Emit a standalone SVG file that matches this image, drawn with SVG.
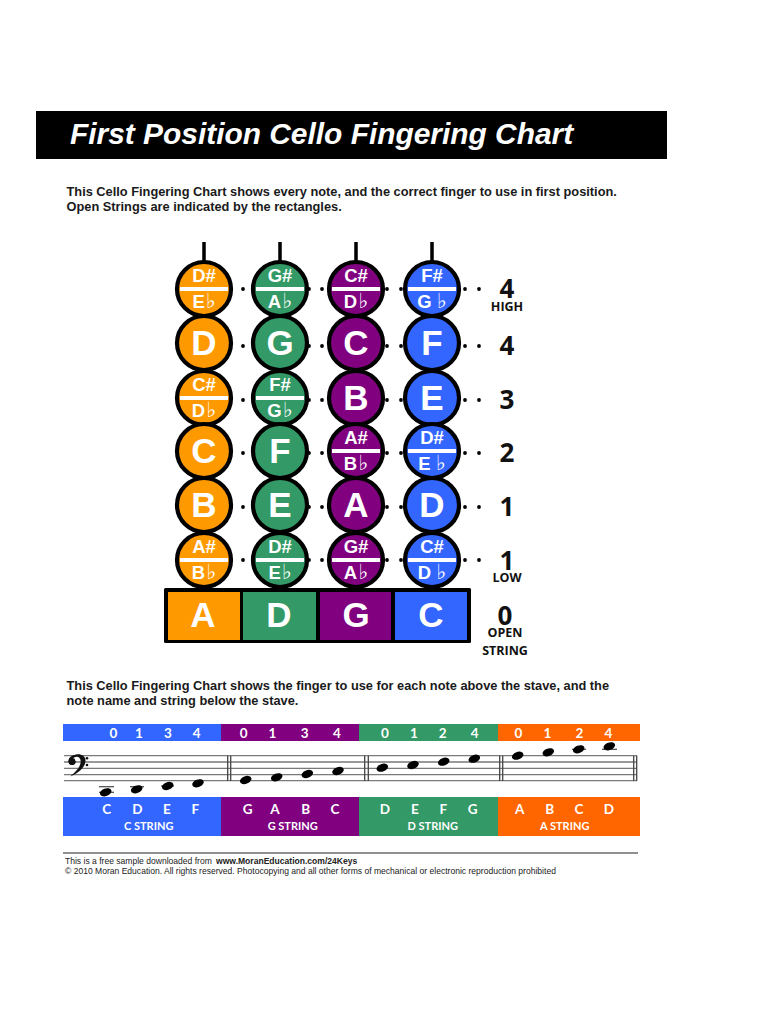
<svg xmlns="http://www.w3.org/2000/svg" width="768" height="1024" viewBox="0 0 768 1024">
<style>
text{font-family:"Liberation Sans",Arial,sans-serif}
.p{font-size:12.8px;font-weight:bold;fill:#1a1a1a}
.f{font-size:8.55px;fill:#222}
.c{stroke:#000;stroke-width:4.2}
.or{fill:#FF9900}.gr{fill:#339966}.pu{fill:#800080}.bl{fill:#3366FF}.dk{fill:#FF6600}
.big{font-size:35px;font-weight:bold;fill:#fff;text-anchor:middle}
.sm{font-size:18.5px;font-weight:bold;fill:#fff;text-anchor:middle}
.fl{font-family:"DejaVu Sans",sans-serif;font-weight:bold;font-size:21px}
.bar{stroke:#fff;stroke-width:4}
.stem{stroke:#000;stroke-width:3.5}
.dot{fill:#000}
.num{font-family:"Open Sans",Lato,sans-serif;font-weight:bold;font-size:26px;fill:#111;text-anchor:middle}
.lab{font-family:"Open Sans",Lato,sans-serif;font-weight:bold;font-size:12.5px;fill:#111;text-anchor:middle}
.w{font-family:Lato,"Open Sans",sans-serif;font-weight:bold;font-size:13.5px;fill:#fff;text-anchor:middle}
.s{font-family:Lato,"Open Sans",sans-serif;font-weight:bold;font-size:11px;fill:#fff;text-anchor:middle}
.l{stroke:#7a7a7a;stroke-width:1.3}
.b{stroke:#444;stroke-width:1.3}
.lg{stroke:#222;stroke-width:1.1}
</style>
<rect width="768" height="1024" fill="#fff"/>
<g id="title"><rect x="36" y="111" width="631" height="48" fill="#000"/><text x="70" y="144" font-size="29.9" font-weight="bold" font-style="italic" fill="#fff">First Position Cello Fingering Chart</text></g>
<g id="intro"><text class="p" x="66.5" y="196">This Cello Fingering Chart shows every note, and the correct finger to use in first position.</text><text class="p" x="66.5" y="211">Open Strings are indicated by the rectangles.</text></g>

<g id="connectors">
<path class="stem" d="M204 242V263M280 242V263M356 242V263M432 242V263"/>
<g class="dot">
<circle cx="243" cy="289" r="1.9"/><circle cx="309" cy="289" r="1.9"/><circle cx="322" cy="289" r="1.9"/><circle cx="387" cy="289" r="1.9"/><circle cx="401" cy="289" r="1.9"/><circle cx="465" cy="289" r="1.9"/><circle cx="479" cy="289" r="1.9"/>
<circle cx="243" cy="346" r="1.9"/><circle cx="309" cy="346" r="1.9"/><circle cx="322" cy="346" r="1.9"/><circle cx="387" cy="346" r="1.9"/><circle cx="401" cy="346" r="1.9"/><circle cx="465" cy="346" r="1.9"/><circle cx="479" cy="346" r="1.9"/>
<circle cx="243" cy="400" r="1.9"/><circle cx="309" cy="400" r="1.9"/><circle cx="322" cy="400" r="1.9"/><circle cx="387" cy="400" r="1.9"/><circle cx="401" cy="400" r="1.9"/><circle cx="465" cy="400" r="1.9"/><circle cx="479" cy="400" r="1.9"/>
<circle cx="243" cy="453" r="1.9"/><circle cx="309" cy="453" r="1.9"/><circle cx="322" cy="453" r="1.9"/><circle cx="387" cy="453" r="1.9"/><circle cx="401" cy="453" r="1.9"/><circle cx="465" cy="453" r="1.9"/><circle cx="479" cy="453" r="1.9"/>
<circle cx="243" cy="507" r="1.9"/><circle cx="309" cy="507" r="1.9"/><circle cx="322" cy="507" r="1.9"/><circle cx="387" cy="507" r="1.9"/><circle cx="401" cy="507" r="1.9"/><circle cx="465" cy="507" r="1.9"/><circle cx="479" cy="507" r="1.9"/>
<circle cx="243" cy="560" r="1.9"/><circle cx="309" cy="560" r="1.9"/><circle cx="322" cy="560" r="1.9"/><circle cx="387" cy="560" r="1.9"/><circle cx="401" cy="560" r="1.9"/><circle cx="465" cy="560" r="1.9"/><circle cx="479" cy="560" r="1.9"/>
</g>
</g>

<g id="n-ds-eb"><circle class="c or" cx="204" cy="289" r="27"/><path class="bar" d="M180 289H228"/><text class="sm" x="204" y="282">D#</text><text class="sm" x="204" y="308">E<tspan class="fl" dx="1">♭</tspan></text></g>
<g id="n-gs-ab"><circle class="c gr" cx="280" cy="289" r="27"/><path class="bar" d="M256 289H304"/><text class="sm" x="280" y="282">G#</text><text class="sm" x="280" y="308">A<tspan class="fl" dx="1">♭</tspan></text></g>
<g id="n-cs-db"><circle class="c pu" cx="356" cy="289" r="27"/><path class="bar" d="M332 289H380"/><text class="sm" x="356" y="282">C#</text><text class="sm" x="356" y="308">D<tspan class="fl" dx="1">♭</tspan></text></g>
<g id="n-fs-gb"><circle class="c bl" cx="432" cy="289" r="27"/><path class="bar" d="M408 289H456"/><text class="sm" x="432" y="282">F#</text><text class="sm" x="432" y="308">G <tspan class="fl">♭</tspan></text></g>

<g id="n-d4"><circle class="c or" cx="204" cy="343" r="27"/><text class="big" x="204" y="355">D</text></g>
<g id="n-g4"><circle class="c gr" cx="280" cy="343" r="27"/><text class="big" x="280" y="355">G</text></g>
<g id="n-c4"><circle class="c pu" cx="356" cy="343" r="27"/><text class="big" x="356" y="355">C</text></g>
<g id="n-f4"><circle class="c bl" cx="432" cy="343" r="27"/><text class="big" x="432" y="355">F</text></g>

<g id="n-cs3"><circle class="c or" cx="204" cy="398" r="27"/><path class="bar" d="M180 398H228"/><text class="sm" x="204" y="391">C#</text><text class="sm" x="204" y="417">D<tspan class="fl" dx="1">♭</tspan></text></g>
<g id="n-fs3"><circle class="c gr" cx="280" cy="398" r="27"/><path class="bar" d="M256 398H304"/><text class="sm" x="280" y="391">F#</text><text class="sm" x="280" y="417">G<tspan class="fl" dx="1">♭</tspan></text></g>
<g id="n-b3"><circle class="c pu" cx="356" cy="398" r="27"/><text class="big" x="356" y="410">B</text></g>
<g id="n-e3"><circle class="c bl" cx="432" cy="398" r="27"/><text class="big" x="432" y="410">E</text></g>

<g id="n-c2"><circle class="c or" cx="204" cy="451" r="27"/><text class="big" x="204" y="463">C</text></g>
<g id="n-f2"><circle class="c gr" cx="280" cy="451" r="27"/><text class="big" x="280" y="463">F</text></g>
<g id="n-as2"><circle class="c pu" cx="356" cy="451" r="27"/><path class="bar" d="M332 451H380"/><text class="sm" x="356" y="444">A#</text><text class="sm" x="356" y="470">B<tspan class="fl" dx="1">♭</tspan></text></g>
<g id="n-ds2"><circle class="c bl" cx="432" cy="451" r="27"/><path class="bar" d="M408 451H456"/><text class="sm" x="432" y="444">D#</text><text class="sm" x="432" y="470">E <tspan class="fl">♭</tspan></text></g>

<g id="n-b1"><circle class="c or" cx="204" cy="505" r="27"/><text class="big" x="204" y="517">B</text></g>
<g id="n-e1"><circle class="c gr" cx="280" cy="505" r="27"/><text class="big" x="280" y="517">E</text></g>
<g id="n-a1"><circle class="c pu" cx="356" cy="505" r="27"/><text class="big" x="356" y="517">A</text></g>
<g id="n-d1"><circle class="c bl" cx="432" cy="505" r="27"/><text class="big" x="432" y="517">D</text></g>

<g id="n-as1"><circle class="c or" cx="204" cy="560" r="27"/><path class="bar" d="M180 560H228"/><text class="sm" x="204" y="553">A#</text><text class="sm" x="204" y="579">B<tspan class="fl" dx="1">♭</tspan></text></g>
<g id="n-ds1"><circle class="c gr" cx="280" cy="560" r="27"/><path class="bar" d="M256 560H304"/><text class="sm" x="280" y="553">D#</text><text class="sm" x="280" y="579">E<tspan class="fl" dx="1">♭</tspan></text></g>
<g id="n-gs1"><circle class="c pu" cx="356" cy="560" r="27"/><path class="bar" d="M332 560H380"/><text class="sm" x="356" y="553">G#</text><text class="sm" x="356" y="579">A<tspan class="fl" dx="1">♭</tspan></text></g>
<g id="n-cs1"><circle class="c bl" cx="432" cy="560" r="27"/><path class="bar" d="M408 560H456"/><text class="sm" x="432" y="553">C#</text><text class="sm" x="432" y="579">D <tspan class="fl">♭</tspan></text></g>

<g id="open-strings">
<rect x="164" y="588" width="307" height="55" rx="1.5" fill="#000"/>
<rect class="or" x="168" y="592" width="72" height="48"/><rect class="gr" x="243" y="592" width="73" height="48"/><rect class="pu" x="320" y="592" width="71" height="48"/><rect class="bl" x="395" y="592" width="72" height="48"/>
<text class="big" x="203" y="627">A</text><text class="big" x="279" y="627">D</text><text class="big" x="356" y="627">G</text><text class="big" x="431" y="627">C</text>
</g>

<g id="fingers">
<text class="num" x="507" y="298">4</text><text class="lab" x="507" y="311">HIGH</text>
<text class="num" x="507" y="355">4</text>
<text class="num" x="507" y="409">3</text>
<text class="num" x="507" y="462">2</text>
<text class="num" x="507" y="516">1</text>
<text class="num" x="507" y="570">1</text><text class="lab" x="507" y="582">LOW</text>
<text class="num" x="505" y="625">0</text><text class="lab" x="505" y="637">OPEN</text><text class="lab" x="505" y="655">STRING</text>
</g>

<g id="intro2"><text class="p" x="66.5" y="690">This Cello Fingering Chart shows the finger to use for each note above the stave, and the</text><text class="p" x="66.5" y="705">note name and string below the stave.</text></g>

<g id="stave-bars">
<rect class="bl" x="63" y="724" width="158" height="17"/><rect class="pu" x="221" y="724" width="138" height="17"/><rect class="gr" x="359" y="724" width="139" height="17"/><rect class="dk" x="498" y="724" width="142" height="17"/>
<rect class="bl" x="63" y="797" width="158" height="39"/><rect class="pu" x="221" y="797" width="138" height="39"/><rect class="gr" x="359" y="797" width="139" height="39"/><rect class="dk" x="498" y="797" width="142" height="39"/>
<g>
<text class="w" x="113.3" y="738">0</text><text class="w" x="139" y="738">1</text><text class="w" x="168" y="738">3</text><text class="w" x="196.7" y="738">4</text>
<text class="w" x="243.7" y="738">0</text><text class="w" x="272.3" y="738">1</text><text class="w" x="304.7" y="738">3</text><text class="w" x="337" y="738">4</text>
<text class="w" x="385" y="738">0</text><text class="w" x="414" y="738">1</text><text class="w" x="442.7" y="738">2</text><text class="w" x="474.7" y="738">4</text>
<text class="w" x="518.3" y="738">0</text><text class="w" x="547.3" y="738">1</text><text class="w" x="579.3" y="738">2</text><text class="w" x="608.3" y="738">4</text>
<text class="w" x="106.7" y="814">C</text><text class="w" x="137.3" y="814">D</text><text class="w" x="167" y="814">E</text><text class="w" x="195.3" y="814">F</text>
<text class="w" x="247.7" y="814">G</text><text class="w" x="275" y="814">A</text><text class="w" x="305.7" y="814">B</text><text class="w" x="335" y="814">C</text>
<text class="w" x="385" y="814">D</text><text class="w" x="415" y="814">E</text><text class="w" x="443.3" y="814">F</text><text class="w" x="472.7" y="814">G</text>
<text class="w" x="519.7" y="814">A</text><text class="w" x="549.7" y="814">B</text><text class="w" x="579" y="814">C</text><text class="w" x="609" y="814">D</text>
<text class="s" x="148.7" y="830">C STRING</text><text class="s" x="292.7" y="830">G STRING</text><text class="s" x="432.7" y="830">D STRING</text><text class="s" x="564.7" y="830">A STRING</text>
</g>
</g>

<g id="stave">
<path class="l" d="M64 755.7H637M64 762H637M64 768.3H637M64 774.7H637M64 780.7H637"/>
<path class="b" d="M227.7 755.7V781M230.7 755.7V781M364.7 755.7V781M368.3 755.7V781M499.7 755.7V781M502.7 755.7V781M633.7 755.7V781M636.7 755.7V781"/>
<path d="M70 776.5C79 773 85.5 767 85.5 760.5C85.5 755.5 80.5 753.5 76 754.5C70.5 755.5 68 758.5 68.5 762C69 765.5 74 766 75.5 763C76.5 760.5 73.5 759 71.5 760.5C73 757 77.5 755.5 79.5 758C82.5 761.5 80 769 70 776.5Z" fill="#111"/>
<circle cx="72" cy="761.5" r="3.4" fill="#111"/>
<circle cx="87" cy="758.3" r="1.3" fill="#111"/><circle cx="87" cy="765" r="1.3" fill="#111"/>
<path class="lg" d="M99 786.7H114M99 792.3H114M130 786.7H144M161 786H174M572 749.3H586M602 749.3H617"/>
<g fill="#000">
<ellipse cx="105.7" cy="792.3" rx="6" ry="3.8" transform="rotate(-20 105.7 792.3)"/>
<ellipse cx="136.7" cy="789.3" rx="6" ry="3.8" transform="rotate(-20 136.7 789.3)"/>
<ellipse cx="167.7" cy="786" rx="6" ry="3.8" transform="rotate(-20 167.7 786)"/>
<ellipse cx="198" cy="783.3" rx="6" ry="3.8" transform="rotate(-20 198 783.3)"/>
<ellipse cx="245.7" cy="780" rx="6" ry="3.8" transform="rotate(-20 245.7 780)"/>
<ellipse cx="276.7" cy="777.3" rx="6" ry="3.8" transform="rotate(-20 276.7 777.3)"/>
<ellipse cx="307.3" cy="774" rx="6" ry="3.8" transform="rotate(-20 307.3 774)"/>
<ellipse cx="338" cy="771" rx="6" ry="3.8" transform="rotate(-20 338 771)"/>
<ellipse cx="382.3" cy="767.7" rx="6" ry="3.8" transform="rotate(-20 382.3 767.7)"/>
<ellipse cx="413" cy="765" rx="6" ry="3.8" transform="rotate(-20 413 765)"/>
<ellipse cx="443.7" cy="761.7" rx="6" ry="3.8" transform="rotate(-20 443.7 761.7)"/>
<ellipse cx="474.3" cy="758.7" rx="6" ry="3.8" transform="rotate(-20 474.3 758.7)"/>
<ellipse cx="517.7" cy="755.7" rx="6" ry="3.8" transform="rotate(-20 517.7 755.7)"/>
<ellipse cx="548.3" cy="752.3" rx="6" ry="3.8" transform="rotate(-20 548.3 752.3)"/>
<ellipse cx="578.7" cy="749.3" rx="6" ry="3.8" transform="rotate(-20 578.7 749.3)"/>
<ellipse cx="609.3" cy="746.3" rx="6" ry="3.8" transform="rotate(-20 609.3 746.3)"/>
</g>
</g>

<g id="footer">
<path d="M63 853H638" stroke="#222" stroke-width="1.2"/>
<text class="f" x="65" y="864">This is a free sample downloaded from</text><text class="f" x="216" y="864" font-weight="bold">www.MoranEducation.com/24Keys</text>
<text class="f" x="65" y="874">© 2010 Moran Education. All rights reserved. Photocopying and all other forms of mechanical or electronic reproduction prohibited</text>
</g>
</svg>
